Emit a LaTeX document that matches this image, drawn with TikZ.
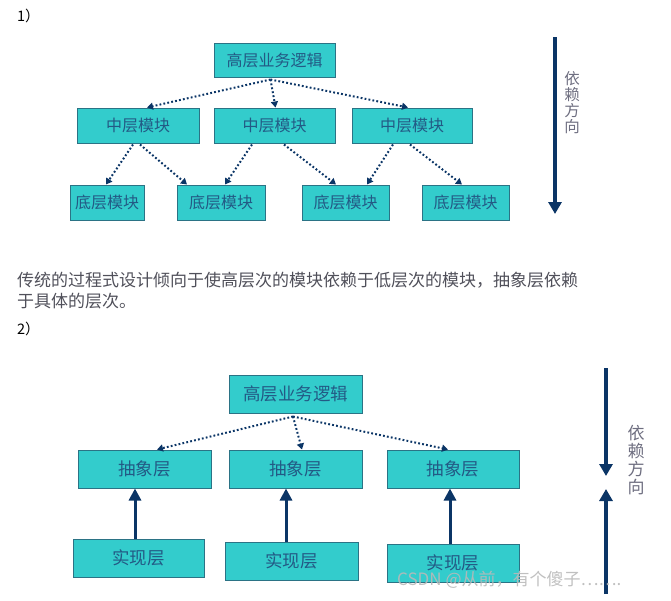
\documentclass[tikz,border=0pt]{standalone}
\usepackage{fontspec}
\setmainfont{Noto Sans CJK SC}
\usetikzlibrary{arrows.meta,calc}
\definecolor{boxfill}{HTML}{33CCCC}
\definecolor{boxline}{HTML}{2B7385}
\definecolor{boxtext}{HTML}{235A85}
\definecolor{navy}{HTML}{0B3566}
\definecolor{bodytext}{HTML}{50505A}
\definecolor{sidetext}{HTML}{6E6E80}
\tikzset{
  layerbox/.style={draw=boxline, fill=boxfill, line width=1pt, text=boxtext,
    font=\fontsize{16}{17}\selectfont, inner sep=0pt, minimum height=#1},
  layerbox/.default=35pt,
  bigbox/.style={layerbox=38pt, font=\fontsize{17.5}{18}\selectfont},
  dotarrow/.style={navy, line width=2pt, dash pattern=on 1.8pt off 2.2pt,
    -{Triangle[width=7pt,length=6pt]}},
  solidarrow/.style={navy, line width=3pt, -{Triangle[width=12pt,length=12pt]}},
  bigarrow/.style={navy, line width=4pt, -{Triangle[width=13pt,length=12pt]}},
  sidelabel/.style={text=sidetext, align=center, inner sep=0pt},
  bodylabel/.style={text=bodytext, anchor=west, inner sep=0pt, align=left}
}
\begin{document}
\begin{tikzpicture}[x=1pt,y=-1pt]
\useasboundingbox (0,0) rectangle (671,600);

% ---- part 1 ----
\node[bodylabel, text=black, font=\fontsize{14.5}{15}\selectfont] (lab1) at (17,16) {1）};

\node[layerbox=34pt, minimum width=121pt] (T1) at (274.5,60) {高层业务逻辑};
\node[layerbox, minimum width=122pt] (M1) at (138,125.5) {中层模块};
\node[layerbox, minimum width=121pt] (M2) at (274.5,125.5) {中层模块};
\node[layerbox, minimum width=120pt] (M3) at (412,125.5) {中层模块};
\node[layerbox, minimum width=74pt] (B1) at (107,202.5) {底层模块};
\node[layerbox, minimum width=88pt] (B2) at (221,202.5) {底层模块};
\node[layerbox, minimum width=87pt] (B3) at (345.5,202.5) {底层模块};
\node[layerbox, minimum width=87pt] (B4) at (465.5,202.5) {底层模块};

\coordinate (t1s) at ([xshift=-4pt,yshift=-2pt]T1.south);
\draw[dotarrow] (t1s) -- ([xshift=9pt]M1.north);
\draw[dotarrow] (t1s) -- ([xshift=1pt]M2.north);
\draw[dotarrow] (t1s) -- ([xshift=-4pt]M3.north);

\draw[dotarrow] ([xshift=-5pt,yshift=-1pt]M1.south) -- ([xshift=-1pt]B1.north);
\draw[dotarrow] ([xshift=2pt,yshift=-1pt]M1.south) -- ([xshift=-34pt]B2.north);
\draw[dotarrow] ([xshift=-22.5pt,yshift=-1pt]M2.south) -- ([xshift=4pt]B2.north);
\draw[dotarrow] ([xshift=9.5pt,yshift=-1pt]M2.south) -- ([xshift=-9.5pt]B3.north);
\draw[dotarrow] ([xshift=-19pt,yshift=-1pt]M3.south) -- ([xshift=21.5pt]B3.north);
\draw[dotarrow] ([xshift=-2pt,yshift=-1pt]M3.south) -- ([xshift=-3.5pt]B4.north);

\coordinate (d1a) at (555,37);
\coordinate (d1b) at (555,214);
\draw[bigarrow] (d1a) -- (d1b);
\node[sidelabel, font=\fontsize{15.5}{16}\selectfont] (dir1) at (572,103) {依\\赖\\方\\向};

% ---- text ----
\node[bodylabel, font=\fontsize{17}{21}\selectfont] (body) at (17,291)
  {传统的过程式设计倾向于使高层次的模块依赖于低层次的模块，抽象层依赖\\于具体的层次。};
\node[bodylabel, text=black, font=\fontsize{14.5}{15}\selectfont] (lab2) at (17,329) {2）};

% ---- part 2 ----
\node[bigbox, minimum width=133pt] (T2) at (295.5,394) {高层业务逻辑};
\node[bigbox, minimum width=133pt] (A1) at (144.5,469) {抽象层};
\node[bigbox, minimum width=133pt] (A2) at (295.5,469) {抽象层};
\node[bigbox, minimum width=132pt] (A3) at (453,469) {抽象层};
\node[bigbox, minimum width=131pt] (I1) at (138.5,558) {实现层};
\node[bigbox, minimum width=133pt] (I2) at (291.5,561) {实现层};
\node[bigbox, minimum width=132pt] (I3) at (453,563) {实现层};

\coordinate (t2s) at ([xshift=-2.5pt,yshift=-3pt]T2.south);
\draw[dotarrow] (t2s) -- ([xshift=12.5pt]A1.north);
\draw[dotarrow] (t2s) -- ([xshift=6.5pt]A2.north);
\draw[dotarrow] (t2s) -- ([xshift=-5pt]A3.north);

\draw[solidarrow] ([xshift=-3.5pt]I1.north) -- ([xshift=-3.5pt]I1.north |- A1.south);
\draw[solidarrow] ([xshift=-5.5pt]I2.north) -- ([xshift=-5.5pt]I2.north |- A2.south);
\draw[solidarrow] ([xshift=-3pt]I3.north) -- ([xshift=-3pt]I3.north |- A3.south);

\coordinate (d2a) at (606,368);
\coordinate (d2b) at (606,476);
\coordinate (u2a) at (606,594);
\coordinate (u2b) at (606,489);
\draw[bigarrow] (d2a) -- (d2b);
\draw[bigarrow] (u2a) -- (u2b);
\node[sidelabel, font=\fontsize{17}{18}\selectfont] (dir2) at (636,460) {依\\赖\\方\\向};

\node[bodylabel, text=gray!55, opacity=0.9, font=\fontsize{17}{18}\selectfont] (wm) at (397,580) {CSDN @从前，有个傻子…….};
\end{tikzpicture}
\end{document}
